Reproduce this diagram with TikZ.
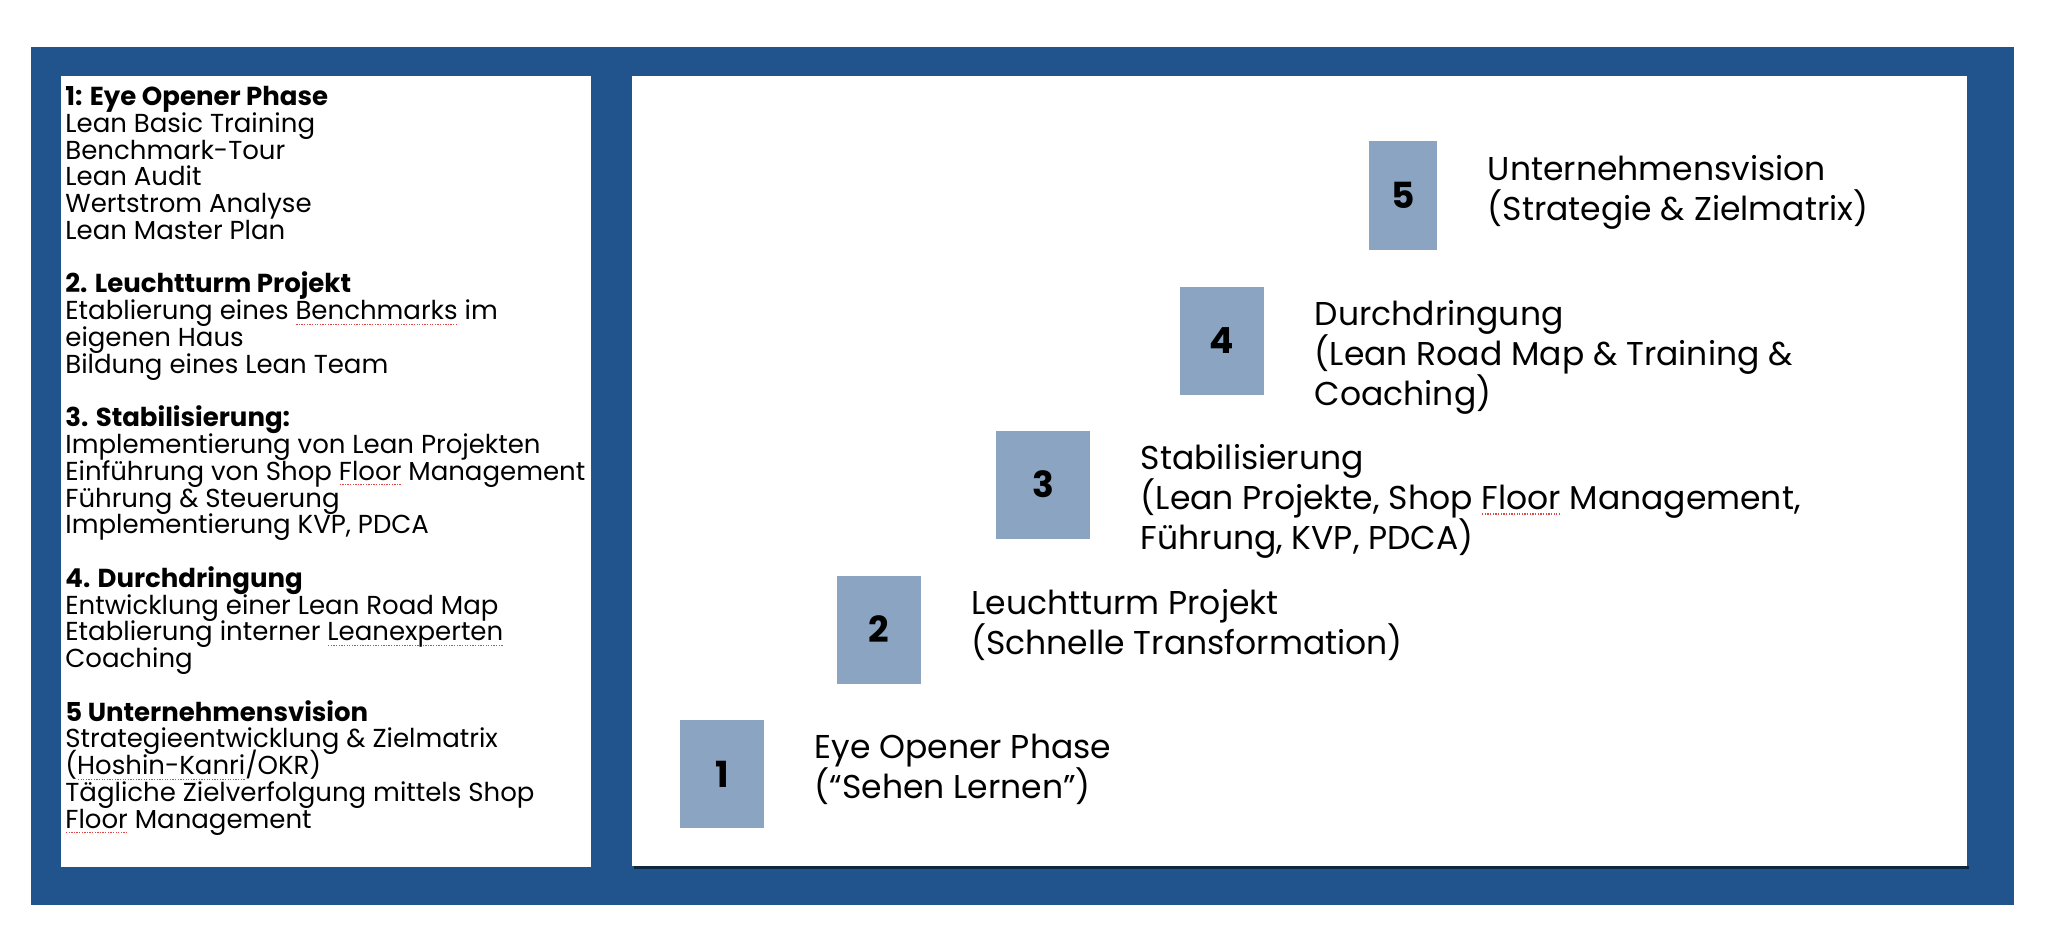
\documentclass[tikz,border=0pt]{standalone}
\usepackage{fontspec}
\setmainfont{Poppins}
\usetikzlibrary{positioning}

\definecolor{frameblue}{RGB}{33,84,140}
\definecolor{stepblue}{RGB}{138,164,193}
\definecolor{spellred}{RGB}{222,70,70}

% red dotted spell-check mark under a word
\newcommand{\spell}[1]{\setbox0\hbox{#1}\rlap{\raisebox{-2.6pt}{\color{spellred}\hbox to \wd0{\xleaders\hbox to 1.3pt{\hss\rule{0.65pt}{0.65pt}\hss}\hfill}}}\box0\relax}
\newcommand{\tightlines}{\lineskiplimit=-50pt\relax}

\begin{document}
\begin{tikzpicture}[x=0.5pt,y=-0.5pt,
  stepbox/.style={fill=stepblue,minimum width=42pt,minimum height=54pt,inner sep=0pt,
    font=\fontsize{18}{20}\selectfont\bfseries},
  steptext/.style={align=left,inner sep=0pt,
    font=\fontsize{16.5}{19.9}\selectfont\tightlines}]
  \useasboundingbox (0,0) rectangle (2048,936);
  % frame and panels
  \fill[frameblue] (31,47) rectangle (2014,905);
  \fill[white] (61,76) rectangle (591,867);
  \fill[black!55!frameblue] (634,866) rectangle (1969,869);
  \fill[white] (632,76) rectangle (1967,866);

  % list of phases
  \node[anchor=north west,align=left,inner sep=0pt,
    font=\fontsize{13}{13.38}\selectfont\tightlines] (list) at (65,86) {%
    \textbf{1: Eye Opener Phase}\\
    Lean Basic Training\\
    Benchmark-Tour\\
    Lean Audit\\
    Wertstrom Analyse\\
    Lean Master Plan\\[13.38pt]
    \textbf{2. Leuchtturm Projekt}\\
    Etablierung eines \spell{Benchmarks} im\\
    eigenen Haus\\
    Bildung eines Lean Team\\[13.38pt]
    \textbf{3. Stabilisierung:}\\
    Implementierung von Lean Projekten\\
    Einführung von Shop \spell{Floor} Management\\
    Führung \& Steuerung\\
    Implementierung KVP, PDCA\\[13.38pt]
    \textbf{4. Durchdringung}\\
    Entwicklung einer Lean Road Map\\
    Etablierung interner \spell{Leanexperten}\\
    Coaching\\[13.38pt]
    \textbf{5 Unternehmensvision}\\
    Strategieentwicklung \& Zielmatrix\\
    (\spell{Hoshin-Kanri}/OKR)\\
    Tägliche Zielverfolgung mittels Shop\\
    \spell{Floor} Management};

  % steps
  \node[stepbox] (sq1) at (722,774) {1};
  \node[stepbox] (sq2) at (878.5,629.5) {2};
  \node[stepbox,minimum width=47pt] (sq3) at (1043,484.5) {3};
  \node[stepbox] (sq4) at (1222,340.5) {4};
  \node[stepbox,minimum width=34pt] (sq5) at (1403,195.5) {5};

  \node[steptext,right=25pt of sq1.north east,anchor=north west,yshift=-7pt] (txt1)
    {Eye Opener Phase\\(“Sehen Lernen”)};
  \node[steptext,right=25pt of sq2.north east,anchor=north west,yshift=-7pt] (txt2)
    {Leuchtturm Projekt\\(Schnelle Transformation)};
  \node[steptext,right=25pt of sq3.north east,anchor=north west,yshift=-7pt] (txt3)
    {Stabilisierung\\(Lean Projekte, Shop \spell{Floor} Management,\\Führung, KVP, PDCA)};
  \node[steptext,right=25pt of sq4.north east,anchor=north west,yshift=-7pt] (txt4)
    {Durchdringung\\(Lean Road Map \& Training \&\\Coaching)};
  \node[steptext,right=25pt of sq5.north east,anchor=north west,yshift=-7pt] (txt5)
    {Unternehmensvision\\(Strategie \& Zielmatrix)};
\end{tikzpicture}
\end{document}
